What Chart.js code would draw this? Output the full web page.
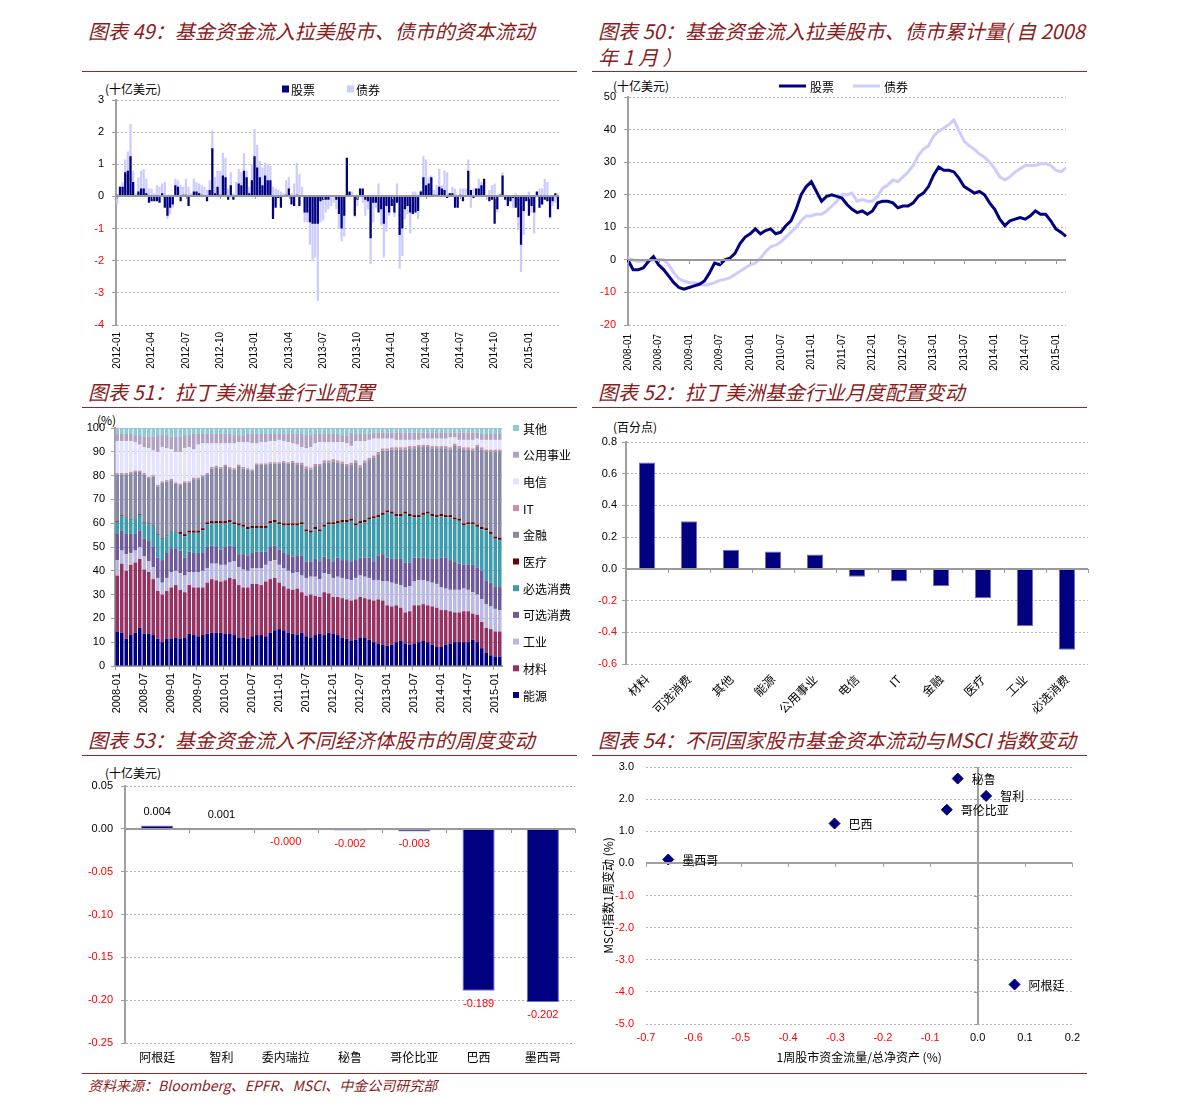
<!DOCTYPE html>
<html><head><meta charset="utf-8">
<script src="https://cdn.jsdelivr.net/npm/chart.js@4.4.0/dist/chart.umd.min.js"></script>
<style>
body{margin:0;background:#fff;}
#page{position:relative;width:1191px;height:1114px;overflow:hidden;font-family:"Noto Sans CJK SC",sans-serif;}
.title{position:absolute;color:#8a1c1c;font-style:italic;font-size:20px;line-height:26px;white-space:nowrap;}
.rule{position:absolute;height:0;border-top:1px solid #8a2a2a;}
.unit{position:absolute;font-size:12px;line-height:14px;color:#000;white-space:nowrap;}
.foot{position:absolute;color:#8a1c1c;font-style:italic;font-size:14px;line-height:18px;white-space:nowrap;}
canvas{position:absolute;}
</style></head>
<body><div id="page">
<div class="title" style="left:88px;top:18px;">图表 49：基金资金流入拉美股市、债市的资本流动</div>
<div class="title" style="left:598px;top:18px;">图表 50：基金资金流入拉美股市、债市累计量( 自 2008<br>年 1 月 ）</div>
<div class="rule" style="left:82px;top:71px;width:495px;"></div>
<div class="rule" style="left:592px;top:71px;width:495px;"></div>
<div class="title" style="left:88px;top:379px;">图表 51：拉丁美洲基金行业配置</div>
<div class="title" style="left:598px;top:379px;">图表 52：拉丁美洲基金行业月度配置变动</div>
<div class="rule" style="left:82px;top:407px;width:495px;"></div>
<div class="rule" style="left:592px;top:407px;width:495px;"></div>
<div class="title" style="left:88px;top:727px;">图表 53：基金资金流入不同经济体股市的周度变动</div>
<div class="title" style="left:598px;top:727px;">图表 54：不同国家股市基金资本流动与MSCI 指数变动</div>
<div class="rule" style="left:82px;top:755px;width:495px;"></div>
<div class="rule" style="left:592px;top:755px;width:495px;"></div>
<div class="rule" style="left:82px;top:1073px;width:1005px;"></div>
<div class="foot" style="left:88px;top:1076px;">资料来源：Bloomberg、EPFR、MSCI、中金公司研究部</div>
<div class="unit" style="left:105px;top:82px;">(十亿美元)</div>
<div class="unit" style="left:613px;top:79px;">(十亿美元)</div>
<div class="unit" style="left:97px;top:413px;">(%)</div>
<div class="unit" style="left:613px;top:420px;">(百分点)</div>
<div class="unit" style="left:105px;top:766px;">(十亿美元)</div>
</div>
<script>
// ================= DATA =================
// Chart 49: weekly flows (bn USD), 2012-01 .. 2015-03
const quarterTicks49 = ['2012-01','2012-04','2012-07','2012-10','2013-01','2013-04','2013-07','2013-10','2014-01','2014-04','2014-07','2014-10','2015-01'];
const stocks49 = [0.05,0.3,0.3,0.75,0.8,1.25,0.45,0.0,0.15,0.25,
 0.25,0.1,-0.2,-0.15,-0.15,-0.15,-0.2,0.1,-0.35,-0.6,
 -0.35,-0.25,0.35,0.3,-0.15,0.05,0.05,-0.3,0.0,0.15,
 0.15,0.1,0.05,0.0,-0.15,0.2,1.5,0.1,0.3,0.05,
 0.65,0.6,-0.1,0.35,-0.1,0.0,0.4,0.35,0.8,0.6,
 0.1,0.5,1.25,0.9,0.6,0.35,0.65,0.5,0.5,-0.7,
 -0.35,-0.05,-0.35,0.0,0.05,0.25,-0.25,-0.3,0.05,-0.3,
 0.0,-0.5,-0.5,-0.8,-0.85,-0.85,-0.85,-0.15,-0.1,-0.1,
 -0.1,0.0,0.0,-0.1,-0.55,-1.0,-0.6,1.2,0.15,0.0,
 -0.6,-0.1,0.25,0.25,-0.1,-0.15,-1.3,-0.2,-0.2,-0.5,
 -0.4,-0.85,-0.3,-0.5,-0.3,-0.5,-0.2,-1.2,-1.0,-0.4,
 -0.3,-0.5,-0.55,-0.5,-0.45,0.15,0.6,0.35,0.4,0.6,
 0.05,0.05,0.3,0.25,0.2,-0.05,0.1,0.1,-0.35,-0.35,
 0.05,-0.15,0.0,0.8,0.2,-0.05,0.25,0.25,0.35,0.55,
 0.0,-0.15,-0.1,-0.85,-0.4,0.05,0.65,-0.1,-0.3,-0.15,
 -0.05,-0.35,-0.65,-1.5,-0.45,-0.15,-0.6,-0.3,-0.5,0.15,
 -0.35,-0.25,-0.1,-0.15,-0.65,-0.15,0.1,-0.4];
const bonds49 = [-0.25,0.3,0.45,1.15,1.4,2.25,0.8,0.1,0.6,0.8,
 0.85,0.55,0.25,0.25,0.1,0.35,0.3,0.4,0.45,-0.7,
 -0.55,-0.35,0.55,0.5,0.35,0.3,0.55,0.3,0.1,0.55,
 0.45,0.4,0.35,0.3,0.2,0.5,2.05,0.6,0.8,0.8,
 1.35,1.2,0.25,0.75,0.1,0.45,0.85,0.75,1.35,0.8,
 0.3,1.0,2.1,1.6,1.1,0.9,1.05,1.0,0.95,0.3,
 0.25,0.2,0.15,0.1,0.5,0.6,0.1,0.4,1.05,0.7,
 0.3,-0.8,-0.8,-1.5,-2.0,-1.9,-3.25,-0.8,-0.75,-0.5,
 -0.4,-0.3,-0.2,-0.4,-1.0,-1.4,-1.25,1.2,0.1,0.15,
 -0.65,-0.3,0.25,-0.2,-0.6,-0.4,-2.1,-0.8,-0.35,0.4,
 -0.9,-1.9,-1.1,-0.6,0.05,-0.65,0.4,-2.25,-1.85,-0.7,
 -0.55,-1.15,0.15,0.15,-0.7,0.2,1.25,1.15,0.6,0.65,
 0.2,0.35,0.85,0.35,0.8,0.75,0.1,0.3,0.25,-0.1,
 0.25,0.25,0.25,1.15,-0.35,0.25,0.25,0.55,0.45,0.55,
 -0.1,0.2,0.35,0.4,-0.5,0.1,0.75,0.0,-0.15,-0.1,
 -0.35,0.1,-1.05,-2.35,-1.2,0.05,0.15,-0.5,-1.15,0.1,
 0.25,0.25,0.55,0.45,-0.7,-0.3,-0.2,0.1];

// Chart 50: cumulative flows since 2008-01 (bn USD), monthly
const halfYearTicks = ['2008-01','2008-07','2009-01','2009-07','2010-01','2010-07','2011-01','2011-07','2012-01','2012-07','2013-01','2013-07','2014-01','2014-07','2015-01'];
const stocksCum50 = [0,-3,-3,-2.5,-0.5,1,-1.5,-3,-5,-7,
 -8.5,-9,-8.5,-8,-7.5,-6.5,-4,-1,-1.5,0,
 0.5,2,5,7,8,9.5,8,9,9.5,8,
 8.5,10.5,12,15.5,20,22.5,24,21,18,19.5,
 20,19.5,19,17,15.5,14.5,15,14,15,17.5,
 18,18,17.5,16,16.5,16.5,17.5,19.5,20.5,22.5,
 26,28.5,27.5,27.5,27,25,22.5,21.5,20.5,21,
 20,17.5,15.5,12.5,10.5,12,12.5,13,12.5,13.5,
 15,14,14,12,9.5,8.5,7.2];
const bondsCum50 = [0.5,0,-0.5,-0.3,-0.5,0,0.2,0,-1.5,-4,
 -5.8,-6.5,-7,-7,-7.5,-7.8,-7.5,-7,-6.3,-6,
 -5.5,-4.5,-3.5,-2.5,-1.5,-1,0.5,2.5,4,4.5,
 5.5,7,8.5,10,12,13.5,13.5,14,14,15,
 16.5,18,20,20,20.5,18,18.5,18,18,19.5,
 22,23,24.5,24,25.5,27,29,32,34,35,
 38,39.5,40.5,41.5,43,39.5,36.5,35,34,32.5,
 31.5,30,28,25.5,24.5,25.5,27,28,29,29,
 29,29.5,29.5,29,27.5,27,28.3];

// Chart 51: sector allocation (%), monthly 2008-01 .. 2015-02 (upper edges, thin bands as shares)
const sectors51 = ['能源','材料','工业','可选消费','必选消费','医疗','金融','IT','电信','公用事业','其他'];
const energyTop51 = [14.5,14,11.5,13,14,16,13.5,13.5,13,11.5,
 10,11.5,11.5,12,11.5,12,13.5,13,12.5,13,
 13.5,14,14,14,13.5,13.5,13,12,12,11.5,
 12.5,13,13,12.5,14,15,15.5,15,14,13.5,
 13,14,12.5,12,13,13.5,13,14,13.5,13,
 12,11.5,10.5,11,12,12,11,10,9.5,9,
 8.5,9,10,10.5,9.5,9,9.5,10,10.5,10,
 9,8,8,9,9.5,10,10,10,10,11,
 10,7.5,5.5,4.5,4,4];
const materialsTop51 = [38,43,40,42.5,43.5,45,40.5,39.5,36.5,31.5,
 30,31.5,33,34,32,31,34,33,33,33,
 35,36.5,36,35.5,36,37,36.5,34,33,33,
 34.5,34.5,34,35.5,36.5,37,35,33.5,32.5,32,
 32.5,31,29.5,30,29.5,29,31,30.5,29,29,
 28.5,28,27.5,28,29,28.5,28,27.5,28,27.5,
 25.5,25,25.5,24.5,22.5,23,25.5,25.5,26,25.5,
 25,24.5,23.5,23.5,23,22.5,22.5,23,23,22,
 21.5,18.5,16,15.5,14.5,14.5];
const industrialsTop51 = [44.5,48.5,47,47.5,48.5,50,46,44,41.5,37,
 35,37,39.5,40,39,38,39.5,39.5,39.5,40,
 41,43,43,42.5,42.5,43.5,44,41.5,40.5,40,
 41,41,41,42.5,44,44.5,42.5,41,40,39,
 39.5,38,37,37.5,37.5,36.5,39,38.5,37,37.5,
 37,36.5,36,37,38,37.5,37,36,36,35.5,
 35.5,35,34.5,34,33,33.5,35.5,36,36,35.5,
 35,34.5,33,32.5,32,32,32,32.5,32,31,
 30,28,26,25,24,23.5];
const discretionaryTop51 = [55.5,57,55.5,55.5,55.5,57,53.5,52.5,50,45.5,
 44.5,47.5,49.5,49.5,48.5,45.5,48,47.5,47.5,47.5,
 50,50.5,50,49,50,50.5,50,47,47,46.5,
 47.5,48,48,48,50,50.5,49,47.5,47,46,
 46.5,46.5,44,44,45,44,46,45,44,45.5,
 44.5,44.5,44,44.5,45.5,45.5,45.5,44,46.5,47,
 45.5,45,45,45,43.5,43.5,45.5,45.5,45.5,45,
 45,45,45.5,45.5,44.5,44,43,42.5,42.5,42.5,
 41.5,40,36,35,33.5,33.5];
const staplesTop51 = [60.5,63,62,61.5,62,63.5,60,59.5,59,55,
 53.5,54.5,56.5,56.5,55.5,54.5,56,56,56,57,
 59.5,60,60,60,60,60.5,59.5,59,58.5,57.5,
 58,58,58,58,60,60.5,59.5,59,59,59,
 59,59.5,56.5,56,57.5,56.5,58.5,59.5,59.5,60,
 60.5,60.5,61,59,60,60.5,61.5,62,62.5,63.5,
 64.5,64,63,63,64,63,62.5,62.5,63.5,64,
 63,62.5,63,62.5,62.5,61.5,61,59,59.5,59.5,
 58.5,57.5,57,55.5,53.5,53];
const healthShare51 = [0.3,0.3,0.3,0.3,0.3,0.3,0.3,0.3,0.3,0.3,
 0.3,0.3,0.3,0.3,0.8,0.9,0.9,0.9,0.9,0.9,
 0.9,0.9,0.9,0.9,0.9,0.9,0.9,0.9,0.9,0.9,
 0.9,0.9,0.9,0.9,0.9,0.9,0.9,0.9,0.9,0.9,
 0.9,0.9,0.9,0.9,0.9,0.9,0.9,0.9,0.9,0.9,
 0.9,0.9,0.9,0.9,0.9,0.9,0.9,0.9,0.9,0.9,
 0.9,0.9,0.9,0.9,0.9,0.9,0.9,0.9,0.9,0.9,
 0.9,0.9,0.9,0.9,0.9,0.9,0.9,0.9,0.9,0.9,
 0.9,0.9,0.9,0.9,0.9,0.9];
const financialsTop51 = [80.5,80.5,80.5,81,81.5,81.5,80.5,79,79.5,75.5,
 77,77.5,78,76.5,76,77,77,78.5,78.5,79.5,
 80.5,83,83.5,83,84,83,82.5,84,83,82.5,
 82,84.5,84.5,84.5,85,85,85,85.5,85,85.5,
 84.5,84.5,83,82.5,84,84,85.5,85.5,86,85.5,
 85,84,84.5,85.5,83.5,85.5,86.5,87.5,89,90.5,
 90.5,91,91,91,91,91.5,91.5,92,92,92,
 91.5,91.5,91.5,91.5,91,92.5,91.5,91,91,90.5,
 92,91,90,90,90,90];
const itShare51 = [0.6,0.6,0.6,0.6,0.6,0.6,0.6,0.6,0.6,0.6,
 0.6,0.6,0.6,0.6,0.6,0.6,0.6,0.6,0.6,0.6,
 0.6,0.6,0.6,0.6,0.6,0.6,0.6,0.6,0.6,0.6,
 0.6,0.6,0.6,0.6,0.6,0.6,0.6,0.6,0.6,0.6,
 0.9,0.9,0.9,0.9,0.9,0.9,0.9,0.9,0.9,0.9,
 0.9,0.9,0.9,0.9,0.9,0.9,0.9,0.9,0.9,0.9,
 0.9,0.9,0.9,0.9,0.9,0.9,0.9,0.9,0.9,0.9,
 0.9,0.9,0.9,0.9,0.9,0.9,0.9,0.9,0.9,0.9,
 0.9,0.9,0.9,0.9,0.9,0.9];
const telecomTop51 = [94.5,94.5,94.5,94.5,94,93,92,91.5,90.5,90,
 92,91.5,91,90,90,91.5,92,91,93,93.5,
 93.5,93.5,93.5,93.5,93.5,93.5,93.5,94,94,94,
 93.5,93.5,94,94,94.5,94.5,95,94.5,94,93.5,
 93,92,91.5,92,93.5,94,94,94,94,94,
 94,93.5,92.5,94.5,94.5,94.5,95,95.5,95.5,95.5,
 95.5,95.5,95,95,95,95,95,95,95.5,95.5,
 95.5,95.5,95.5,95.5,96,96,95,95,95,95,
 95.5,95,95,95,95,95];
const utilitiesTop51 = [97.5,97.5,97.5,97.5,97,97,96.5,96.5,96.5,97,
 97,97,96.5,96.5,96.5,97,97,97.5,97.5,97.5,
 97.5,97.5,97.5,97.5,97.5,97.5,97,97,97,97.5,
 97.5,97.5,97.5,97.5,97.5,97.5,97.5,97.5,97.5,97.5,
 97.5,97.5,97,97,97.5,97.5,97.5,97.5,97.5,97.5,
 97,97,98,97.5,97.5,97.5,97.5,98,98,98,
 98,98,98,98,98,98,98,98,98,98,
 98,98,98,98,98,98,98,98,98,98,
 98,97.5,97.5,97.5,97.5,97.5];

// Chart 52: monthly change in sector allocation (pct points)
const sectors52 = ['材料','可选消费','其他','能源','公用事业','电信','IT','金融','医疗','工业','必选消费'];
const change52 = [0.67,0.30,0.12,0.11,0.09,-0.05,-0.08,-0.11,-0.185,-0.36,-0.51];

// Chart 53: weekly equity flows by economy (bn USD)
const countries53 = ['阿根廷','智利','委内瑞拉','秘鲁','哥伦比亚','巴西','墨西哥'];
const flows53 = [0.004,0.001,-0.0001,-0.002,-0.003,-0.189,-0.202];

// Chart 54: 1-week flow / NAV (%) vs MSCI 1-week change (%)
const countries54 = ['秘鲁','智利','哥伦比亚','巴西','墨西哥','阿根廷'];
const flowPct54 = [-0.042,0.018,-0.065,-0.302,-0.653,0.078];
const msci54 = [2.64,2.10,1.67,1.24,0.12,-3.77];

// ================= SETUP =================
Chart.defaults.font.family = '"Liberation Sans", Arial, sans-serif';
Chart.defaults.font.size = 11;
Chart.defaults.color = '#000';
Chart.defaults.animation = false;
const CJK = '"Noto Sans CJK SC", "Liberation Sans", sans-serif';
const RED = '#ff0000', NAVY = '#000080', LAV = '#ccccff', GRID = '#b4b4b4', AXIS = '#a0a0a0';
const negColor = c => (c.tick && c.tick.value < -1e-9) ? RED : '#000';
const fmtNum = (v, d) => { if (Math.abs(v) < 1e-9) v = 0; return Number(v).toFixed(d); };

const refLines = {
  id: 'refLines',
  afterDatasetsDraw(chart, args, o) {
    if (!o || !o.on) return;
    const {ctx, chartArea: a} = chart;
    const xs = chart.scales.x, ys = chart.scales.y;
    ctx.save(); ctx.setLineDash([]); ctx.strokeStyle = o.color;
    if (o.h) {
      const py = Math.round(ys.getPixelForValue(0));
      ctx.lineWidth = o.width;
      ctx.beginPath(); ctx.moveTo(a.left, py); ctx.lineTo(a.right, py); ctx.stroke();
      const px = [];
      if (o.hTicks === 'bounds') { const n = chart.data.labels.length; for (let k = 0; k <= n; k++) px.push(a.left + (a.right - a.left) * k / n); }
      else if (o.hTicks === 'index') { for (const i of o.hIdx) px.push(xs.getPixelForValue(i)); }
      else if (o.hTicks === 'values') { xs.ticks.forEach(t => px.push(xs.getPixelForValue(t.value))); }
      ctx.lineWidth = 1; ctx.beginPath();
      px.forEach(p => { const q = Math.round(p) + 0.5; ctx.moveTo(q, py); ctx.lineTo(q, py + o.tickLen); });
      ctx.stroke();
    }
    if (o.v) {
      const px0 = Math.round(xs.getPixelForValue(0));
      ctx.lineWidth = o.width;
      ctx.beginPath(); ctx.moveTo(px0, a.top); ctx.lineTo(px0, a.bottom); ctx.stroke();
      ctx.lineWidth = 1; ctx.beginPath();
      ys.ticks.forEach(t => { const q = Math.round(ys.getPixelForValue(t.value)) + 0.5; ctx.moveTo(px0, q); ctx.lineTo(px0 - o.tickLen, q); });
      ctx.stroke();
    }
    ctx.restore();
  }
};
const fixedLegend = {
  id: 'fixedLegend',
  afterDraw(chart, args, o) {
    if (!o || !o.items) return;
    const ctx = chart.ctx;
    ctx.save(); ctx.font = o.fontStr; ctx.textBaseline = 'middle'; ctx.textAlign = 'left';
    chart.data.datasets.forEach((ds, i) => {
      const it = o.items[i]; if (!it) return;
      if (o.kind === 'line') {
        ctx.strokeStyle = ds.borderColor; ctx.lineWidth = o.lineWidth;
        ctx.beginPath(); ctx.moveTo(it.x, it.y); ctx.lineTo(it.x + o.w, it.y); ctx.stroke();
      } else {
        ctx.fillStyle = ds.backgroundColor; ctx.fillRect(it.x, it.y - o.h / 2, o.w, o.h);
      }
      ctx.fillStyle = '#000';
      ctx.fillText(ds.label, it.x + o.w + o.gap, it.y + 1);
    });
    ctx.restore();
  }
};
const valueLabels = {
  id: 'valueLabels',
  afterDatasetsDraw(chart, args, o) {
    if (!o || !o.on) return;
    const ctx = chart.ctx, meta = chart.getDatasetMeta(0), data = chart.data.datasets[0].data;
    ctx.save(); ctx.font = o.fontStr; ctx.textAlign = 'center'; ctx.textBaseline = 'middle';
    meta.data.forEach((bar, i) => {
      const v = data[i], neg = v < 0;
      ctx.fillStyle = neg ? RED : '#000';
      ctx.fillText(v.toFixed(o.dec), bar.x, bar.y + (neg ? o.off : -o.off));
    });
    ctx.restore();
  }
};
const pointLabels = {
  id: 'pointLabels',
  afterDatasetsDraw(chart, args, o) {
    if (!o || !o.on) return;
    const ctx = chart.ctx, meta = chart.getDatasetMeta(0), data = chart.data.datasets[0].data;
    ctx.save(); ctx.font = o.fontStr; ctx.textAlign = 'left'; ctx.textBaseline = 'middle'; ctx.fillStyle = '#000';
    meta.data.forEach((pt, i) => ctx.fillText(data[i].name, pt.x + o.dx, pt.y + 1));
    ctx.restore();
  }
};
Chart.register(refLines, fixedLegend, valueLabels, pointLabels);

function makeCanvas(left, top, w, h) {
  const c = document.createElement('canvas');
  c.width = w; c.height = h;
  c.style.cssText = `left:${left}px;top:${top}px;width:${w}px;height:${h}px;`;
  document.getElementById('page').appendChild(c);
  return c;
}
function yAxis(min, max, step, width, dec, extra = {}) {
  return {
    min, max,
    ticks: {stepSize: step, color: negColor, padding: extra.pad ?? 8, font: {size: 11}, callback: v => fmtNum(v, dec)},
    grid: {color: extra.gridColor || GRID, lineWidth: 1, drawTicks: true, tickLength: 4, tickColor: AXIS, tickBorderDash: []},
    border: {display: extra.border !== false, color: AXIS, width: 2, dash: extra.dash === undefined ? [2, 2] : extra.dash},
    afterFit: s => { s.width = width; }
  };
}
const monthLabel = (y0, m0, i) => { const t = y0 * 12 + (m0 - 1) + i; const y = Math.floor(t / 12), m = t % 12 + 1; return y + '-' + (m < 10 ? '0' : '') + m; };
const noGridX = {display: false, drawTicks: false};

// ================= CHART 49 =================
const labels49 = stocks49.map((_, i) => { const d = new Date(2012, 0, 6 + 7 * i); return d.getFullYear() + '-' + String(d.getMonth() + 1).padStart(2, '0'); });
const qIdx49 = labels49.map((l, i) => (quarterTicks49.includes(l) && (i === 0 || labels49[i - 1] !== l)) ? i : -1).filter(i => i >= 0);
new Chart(makeCanvas(82, 78, 495, 300), {
  type: 'bar',
  data: {labels: labels49, datasets: [
    {label: '股票', data: stocks49, backgroundColor: NAVY, barPercentage: 0.85, categoryPercentage: 1},
    {label: '债券', data: bonds49, backgroundColor: LAV, barPercentage: 0.85, categoryPercentage: 1}
  ]},
  options: {
    responsive: false, devicePixelRatio: 1,
    layout: {padding: {top: 22, right: 12, left: 0, bottom: 0}},
    plugins: {legend: {display: false}, tooltip: {enabled: false},
      fixedLegend: {kind: 'box', w: 7, h: 7, gap: 2, fontStr: '12px ' + CJK, items: [{x: 200, y: 11}, {x: 265, y: 11}]},
      refLines: {on: true, h: true, color: '#999999', width: 2, hTicks: 'index', hIdx: qIdx49, tickLen: 3}},
    scales: {
      x: {stacked: true, grid: noGridX, border: {display: false},
        ticks: {autoSkip: false, minRotation: 90, maxRotation: 90, padding: 7, font: {size: 10},
          callback: function (v, i) { return qIdx49.includes(i) ? labels49[i] : ''; }},
        afterFit: s => { s.height = 53; }},
      y: Object.assign(yAxis(-4, 3, 1, 34, 0), {stacked: false})
    }
  }
});

// ================= CHART 50 =================
const labels50 = stocksCum50.map((_, i) => monthLabel(2008, 1, i));
const hIdx50 = labels50.map((l, i) => halfYearTicks.includes(l) ? i : -1).filter(i => i >= 0);
new Chart(makeCanvas(592, 78, 495, 300), {
  type: 'line',
  data: {labels: labels50, datasets: [
    {label: '股票', data: stocksCum50, borderColor: NAVY, backgroundColor: NAVY, borderWidth: 3, pointRadius: 0, tension: 0},
    {label: '债券', data: bondsCum50, borderColor: LAV, backgroundColor: LAV, borderWidth: 3, pointRadius: 0, tension: 0}
  ]},
  options: {
    responsive: false, devicePixelRatio: 1,
    layout: {padding: {top: 19, right: 15, left: 0, bottom: 0}},
    plugins: {legend: {display: false}, tooltip: {enabled: false},
      fixedLegend: {kind: 'line', w: 27, lineWidth: 3, gap: 4, fontStr: '12px ' + CJK, items: [{x: 187, y: 8}, {x: 261, y: 8}]},
      refLines: {on: true, h: true, color: '#999999', width: 2, hTicks: 'index', hIdx: hIdx50, tickLen: 4}},
    scales: {
      x: {grid: noGridX, border: {display: false},
        ticks: {autoSkip: false, minRotation: 90, maxRotation: 90, padding: 9, font: {size: 10},
          callback: function (v, i) { return hIdx50.includes(i) ? labels50[i] : ''; }},
        afterFit: s => { s.height = 53; }},
      y: yAxis(-20, 50, 10, 36, 0)
    }
  }
});

// ================= CHART 51 =================
const labels51 = energyTop51.map((_, i) => monthLabel(2008, 1, i));
const col51 = ['#000080', '#963162', '#b9b9e3', '#6f5b9c', '#3d9cad', '#6b0000', '#8888a9', '#c9909f', '#e3e3ff', '#b2a3c4', '#8ecad7'];
const seg51 = [
  energyTop51,
  materialsTop51.map((v, i) => v - energyTop51[i]),
  industrialsTop51.map((v, i) => v - materialsTop51[i]),
  discretionaryTop51.map((v, i) => v - industrialsTop51[i]),
  staplesTop51.map((v, i) => v - discretionaryTop51[i]),
  healthShare51,
  financialsTop51.map((v, i) => v - staplesTop51[i] - healthShare51[i]),
  itShare51,
  telecomTop51.map((v, i) => v - financialsTop51[i] - itShare51[i]),
  utilitiesTop51.map((v, i) => v - telecomTop51[i]),
  utilitiesTop51.map(v => 100 - v)
];
new Chart(makeCanvas(82, 412, 495, 310), {
  type: 'bar',
  data: {labels: labels51, datasets: sectors51.map((name, k) => ({label: name, data: seg51[k], backgroundColor: col51[k], barPercentage: 0.78, categoryPercentage: 1}))},
  options: {
    responsive: false, devicePixelRatio: 1,
    layout: {padding: {top: 16, right: 75, left: 0, bottom: 0}},
    plugins: {legend: {display: false}, tooltip: {enabled: false},
      fixedLegend: {kind: 'box', w: 6, h: 6, gap: 4, fontStr: '12px ' + CJK,
        items: sectors51.map((_, k) => ({x: 431, y: 16 + 26.7 * (10 - k)}))}},
    scales: {
      x: {stacked: true, grid: {display: true, drawOnChartArea: false, drawTicks: true, tickLength: 4, offset: true,
          tickColor: c => (labels51[c.index] && /-(01|07)$/.test(labels51[c.index])) ? AXIS : 'rgba(0,0,0,0)'},
        border: {display: true, color: AXIS, width: 2},
        ticks: {autoSkip: false, minRotation: 90, maxRotation: 90, padding: 3, font: {size: 11},
          callback: function (v, i) { return /-(01|07)$/.test(labels51[i]) ? labels51[i] : ''; }},
        afterFit: s => { s.height = 56; }},
      y: Object.assign(yAxis(0, 100, 10, 33, 0, {gridColor: '#c4c4c4', dash: [], pad: 6}), {stacked: true})
    }
  }
});

// ================= CHART 52 =================
new Chart(makeCanvas(592, 412, 500, 310), {
  type: 'bar',
  data: {labels: sectors52, datasets: [{label: '行业配置变动', data: change52, backgroundColor: NAVY, borderColor: '#7070b8', borderWidth: 1, barPercentage: 0.39, categoryPercentage: 1}]},
  options: {
    responsive: false, devicePixelRatio: 1,
    layout: {padding: {top: 30, right: 4, left: 0, bottom: 0}},
    plugins: {legend: {display: false}, tooltip: {enabled: false},
      refLines: {on: true, h: true, color: '#999999', width: 2, hTicks: 'bounds', tickLen: 4}},
    scales: {
      x: {grid: noGridX, border: {display: false},
        ticks: {autoSkip: false, minRotation: 45, maxRotation: 45, padding: 8, font: {size: 12, family: CJK}},
        afterFit: s => { s.height = 58; }},
      y: yAxis(-0.6, 0.8, 0.2, 34, 1, {pad: 5})
    }
  }
});

// ================= CHART 53 =================
new Chart(makeCanvas(82, 760, 495, 310), {
  type: 'bar',
  data: {labels: countries53, datasets: [{label: '股市资金流量', data: flows53, backgroundColor: NAVY, borderColor: '#7070b8', borderWidth: 1, barPercentage: 0.5, categoryPercentage: 1}]},
  options: {
    responsive: false, devicePixelRatio: 1,
    layout: {padding: {top: 26, right: 2, left: 0, bottom: 0}},
    plugins: {legend: {display: false}, tooltip: {enabled: false},
      refLines: {on: true, h: true, color: '#999999', width: 2, hTicks: 'bounds', tickLen: 4},
      valueLabels: {on: true, dec: 3, off: 13, fontStr: '11px "Liberation Sans", Arial, sans-serif'}},
    scales: {
      x: {grid: noGridX, border: {display: false},
        ticks: {autoSkip: false, maxRotation: 0, padding: 7, font: {size: 12, family: CJK}},
        afterFit: s => { s.height = 27; }},
      y: yAxis(-0.25, 0.05, 0.05, 43, 2)
    }
  }
});

// ================= CHART 54 =================
new Chart(makeCanvas(592, 748, 495, 322), {
  type: 'scatter',
  data: {datasets: [{label: '国家', data: flowPct54.map((x, i) => ({x, y: msci54[i], name: countries54[i]})),
    backgroundColor: NAVY, borderColor: NAVY, pointStyle: 'rectRot', pointRadius: 5.5, borderWidth: 1}]},
  options: {
    responsive: false, devicePixelRatio: 1,
    layout: {padding: {top: 19, right: 10, left: 0, bottom: 0}},
    plugins: {legend: {display: false}, tooltip: {enabled: false},
      refLines: {on: true, h: true, v: true, color: '#a0a0a0', width: 2, hTicks: 'values', tickLen: 4},
      pointLabels: {on: true, dx: 14, fontStr: '12px ' + CJK}},
    scales: {
      x: {type: 'linear', min: -0.7, max: 0.2,
        ticks: {stepSize: 0.1, color: negColor, padding: 7, font: {size: 11}, callback: v => fmtNum(v, 1)},
        grid: noGridX, border: {display: false},
        title: {display: true, text: '1周股市资金流量/总净资产 (%)', font: {size: 12, family: CJK}, padding: {top: 0, bottom: 5}},
        afterFit: s => { s.height = 46; }},
      y: {min: -5, max: 3,
        ticks: {stepSize: 1, color: negColor, padding: 12, font: {size: 11}, callback: v => fmtNum(v, 1)},
        grid: {color: GRID, lineWidth: 1, drawTicks: false},
        border: {display: false, dash: [2, 2]},
        title: {display: true, text: 'MSCI指数1周变动 (%)', font: {size: 12, family: CJK}, padding: {top: 9, bottom: 0}},
        afterFit: s => { s.width = 54; }}
    }
  }
});
</script>
</body></html>
